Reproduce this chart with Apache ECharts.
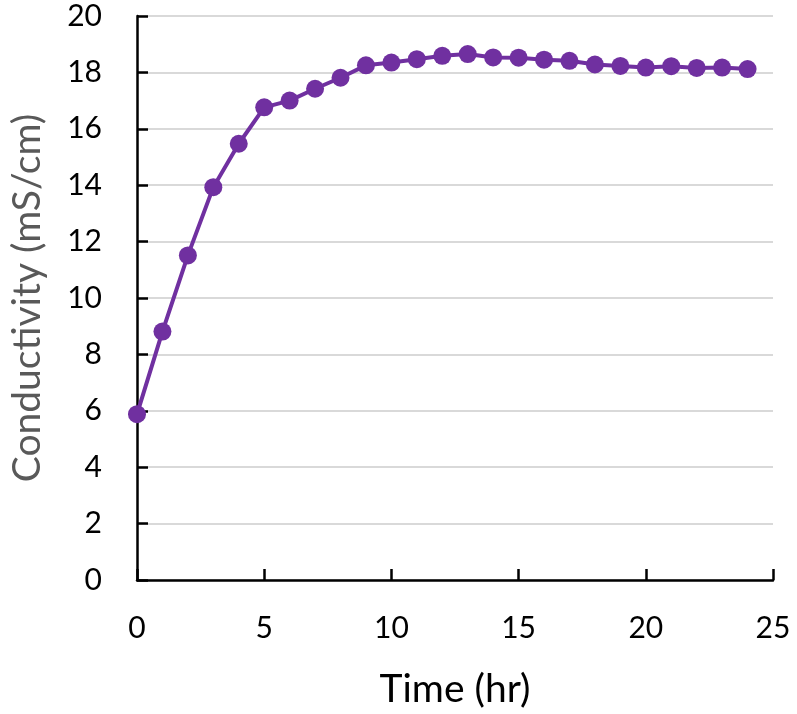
<!DOCTYPE html>
<html>
<head>
<meta charset="utf-8">
<script src="https://cdn.jsdelivr.net/npm/echarts@6/dist/echarts.min.js"></script>
<style>
html,body{margin:0;padding:0;background:#fff;}
#chart{width:797px;height:714px;}
</style>
</head>
<body>
<div id="chart"></div>
<script>
const timeHr = [0,1,2,3,4,5,6,7,8,9,10,11,12,13,14,15,16,17,18,19,20,21,22,23,24];
const conductivity = [5.88,8.81,11.51,13.93,15.47,16.76,17.0,17.42,17.81,18.25,18.35,18.47,18.59,18.65,18.53,18.52,18.45,18.41,18.28,18.23,18.17,18.22,18.16,18.17,18.12];
const xTicks = [0,5,10,15,20,25];
const yTicks = [0,2,4,6,8,10,12,14,16,18,20];

const seriesData = timeHr.map((t,i)=>[t, conductivity[i]]);
const FONT = 'Lato';

const chart = echarts.init(document.getElementById('chart'), null, {renderer:'canvas'});
chart.setOption({
  animation:false,
  backgroundColor:'#ffffff',
  grid:{left:126, right:24, top:16, bottom:129, containLabel:false},
  xAxis:{
    type:'value', min:xTicks[0], max:xTicks[xTicks.length-1], interval:5,
    name:'Time (hr)', nameLocation:'middle', nameGap:90,
    nameTextStyle:{fontFamily:FONT, fontSize:39, color:'#000000'},
    axisLine:{show:true, onZero:false, lineStyle:{color:'#000000', width:2.5}},
    axisTick:{show:true, inside:true, length:11, lineStyle:{color:'#000000', width:2.5}},
    axisLabel:{fontFamily:FONT, fontSize:30, color:'#000000', margin:33},
    splitLine:{show:false}
  },
  yAxis:{
    type:'value', min:yTicks[0], max:yTicks[yTicks.length-1], interval:2,
    name:'Conductivity (mS/cm)', nameLocation:'middle', nameGap:90,
    nameTextStyle:{fontFamily:FONT, fontSize:39, color:'#595959'},
    axisLine:{show:true, onZero:false, lineStyle:{color:'#000000', width:2.5}},
    axisTick:{show:true, inside:true, length:11, lineStyle:{color:'#000000', width:2.5}},
    axisLabel:{fontFamily:FONT, fontSize:30, color:'#000000', margin:35},
    splitLine:{show:true, lineStyle:{color:'#d9d9d9', width:2}}
  },
  series:[{
    type:'line', data:seriesData,
    symbol:'circle', symbolSize:18,
    lineStyle:{color:'#7030A0', width:4},
    itemStyle:{color:'#7030A0'},
    z:5
  }]
});
</script>
</body>
</html>
